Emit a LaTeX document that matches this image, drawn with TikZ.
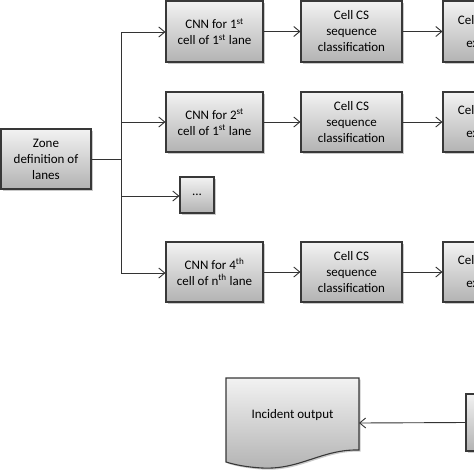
\documentclass[tikz,border=0pt]{standalone}
\usepackage{fontspec}
\setmainfont{Carlito}
\usetikzlibrary{arrows.meta,shadows}
\begin{document}
\begin{tikzpicture}[x=1pt,y=-1pt,
  blk/.style={draw=black!78, line width=1.1pt, top color=black!5, bottom color=black!30,
    drop shadow={shadow xshift=1.6pt, shadow yshift=-1.6pt, fill=black!35, opacity=0.6},
    align=center, inner sep=1pt, text=black,
    font=\fontsize{13}{16}\selectfont},
  conn/.style={draw=black!80, line width=0.9pt},
  arr/.style={conn, -{Straight Barb[length=6pt,width=10pt,line width=0.9pt]}}]
\useasboundingbox (0,0) rectangle (474,474);
% left zone box
\node[blk, minimum width=90pt, minimum height=60pt] (zone) at (46,159) {Zone\\definition of\\lanes};
% column 1
\node[blk, minimum width=97pt, minimum height=61pt] (cnn1) at (214.5,31.5) {CNN for 1\textsuperscript{st}\\cell of 1\textsuperscript{st} lane};
\node[blk, minimum width=97pt, minimum height=60pt] (cnn2) at (214.5,122) {CNN for 2\textsuperscript{st}\\cell of 1\textsuperscript{st} lane};
\node[blk, minimum width=34pt, minimum height=36pt] (dots) at (197,195) {...};
\node[blk, minimum width=97pt, minimum height=60pt] (cnn4) at (214.5,272) {CNN for 4\textsuperscript{th}\\cell of n\textsuperscript{th} lane};
% column 2
\node[blk, minimum width=101pt, minimum height=61pt] (cs1) at (351.5,31.5) {Cell CS\\sequence\\classification};
\node[blk, minimum width=101pt, minimum height=60pt] (cs2) at (351.5,122) {Cell CS\\sequence\\classification};
\node[blk, minimum width=101pt, minimum height=60pt] (cs4) at (351.5,272) {Cell CS\\sequence\\classification};
% column 3 (cut by page edge)
\node[blk, minimum width=100pt, minimum height=61pt] (ex1) at (493,31.5) {Cell incidents\\[7pt]extraction};
\node[blk, minimum width=100pt, minimum height=60pt] (ex2) at (493,122) {Cell incidents\\[7pt]extraction};
\node[blk, minimum width=100pt, minimum height=60pt] (ex4) at (493,272) {Cell incidents\\[7pt]extraction};
% bottom right box (cut)
\node[blk, minimum width=100pt, minimum height=57pt] (res) at (516,422.5) {};
% document shape
\path[draw=black!78, line width=1.1pt, top color=black!5, bottom color=black!30,
    drop shadow={shadow xshift=1.6pt, shadow yshift=-1.6pt, fill=black!35, opacity=0.6}]
  (226,378) -- (359,378) -- (359,450)
  .. controls (322,449) and (300,470) .. (262,468)
  .. controls (246,467) and (236,465) .. (226,462) -- cycle;
\node[text=black, font=\fontsize{13}{16}\selectfont] (doc) at (292.5,415) {Incident output};
\coordinate (docr) at (359,423);
% trunk
\coordinate (t1) at (121,32);
\coordinate (t2) at (121,122);
\coordinate (t3) at (121,196);
\coordinate (t4) at (121,273);
\draw[conn] (t1) -- (t4);
\draw[conn] (zone.east) -- (zone.east -| t1);
\draw[arr] (t1) -- (t1 -| cnn1.west);
\draw[arr] (t2) -- (t2 -| cnn2.west);
\draw[arr] (t3) -- (t3 -| dots.west);
\draw[arr] (t4) -- (t4 -| cnn4.west);
% row arrows
\draw[arr] (cnn1.east) -- (cs1.west);
\draw[arr] (cs1.east) -- (ex1.west);
\draw[arr] (cnn2.east) -- (cs2.west);
\draw[arr] (cs2.east) -- (ex2.west);
\draw[arr] (cnn4.east) -- (cs4.west);
\draw[arr] (cs4.east) -- (ex4.west);
\draw[arr] (res.west) -- (docr);
\end{tikzpicture}
\end{document}
